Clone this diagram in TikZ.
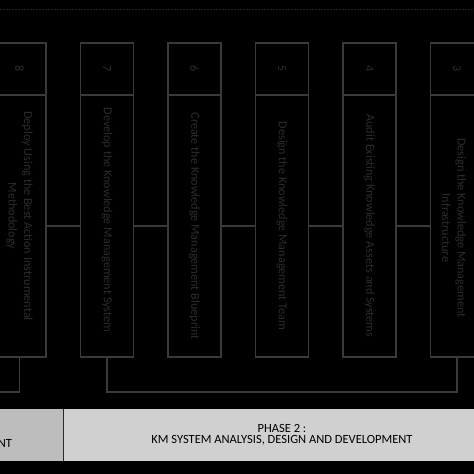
\documentclass[tikz,border=0pt]{standalone}
\usepackage{fontspec}
\setmainfont{Carlito}
\usetikzlibrary{positioning}
\usetikzlibrary{calc}

\definecolor{boxline}{HTML}{3A3A3A}
\definecolor{boxtext}{HTML}{2C2C2C}
\definecolor{phaseA}{HTML}{BDBDBD}
\definecolor{phaseB}{HTML}{D0D0D0}

\begin{document}
\begin{tikzpicture}[x=1pt,y=-1pt, node distance=34.5pt,
                    numbox/.style={rectangle,draw=boxline,line width=1.5pt,outer sep=0pt,
                                   minimum width=53pt,minimum height=52pt,inner sep=0pt},
                    taskbox/.style={rectangle,draw=boxline,line width=1.5pt,outer sep=0pt,
                                    minimum width=53pt,minimum height=262pt,inner sep=0pt},
                    tasktext/.style={rotate=-90,text=boxtext,font=\fontsize{12.2}{15.5}\selectfont,align=center},
                    link/.style={draw=boxline,line width=1.5pt},
                    phase cell/.style={rectangle,minimum height=52pt,inner sep=0pt,outer sep=0pt,
                                       font=\fontsize{12.5}{13.5}\selectfont,align=center}]
      \useasboundingbox[fill=black] (0,0) rectangle (474,474);
      \draw[boxline!60!black, line width=1pt, dash pattern=on 2pt off 1pt] (0,9) -- (474,9);

      % number boxes, right to left in the picture
      \node[numbox] (n8) at (19.5,69) {};
      \node[numbox] (n7) [right=of n8] {};
      \node[numbox] (n6) [right=of n7] {};
      \node[numbox] (n5) [right=of n6] {};
      \node[numbox] (n4) [right=of n5] {};
      \node[numbox] (n3) [right=of n4] {};

      % task boxes
      \node[taskbox] (t8) [below=0pt of n8] {};
      \node[taskbox] (t7) [below=0pt of n7] {};
      \node[taskbox] (t6) [below=0pt of n6] {};
      \node[taskbox] (t5) [below=0pt of n5] {};
      \node[taskbox] (t4) [below=0pt of n4] {};
      \node[taskbox] (t3) [below=0pt of n3] {};

      \foreach \i in {8,7,6,5,4,3}
        \node[tasktext] (num\i) at (n\i) {\i};

      \node[tasktext] (d8) at ($(t8)+(0,-10)$) {Deploy Using the Best Action Instrumental\\Methodology};
      \node[tasktext] (d7) at ($(t7)+(0,-6)$) {Develop the Knowledge Management System};
      \node[tasktext] (d6) at (t6) {Create the Knowledge Management Blueprint};
      \node[tasktext] (d5) at (t5) {Design the Knowledge Management Team};
      \node[tasktext] (d4) at (t4) {Audit Existing Knowledge Assets and Systems};
      \node[tasktext] (d3) at ($(t3)+(-3,2)$) {Design the Knowledge Management\\Infrastructure};

      \path[link]
	(t8) edge (t7)
	(t7) edge (t6)
	(t6) edge (t5)
	(t5) edge (t4)
	(t4) edge (t3);

      \coordinate (lend) at (0,392);
      \coordinate (rturn) at ($(t3.south)+(0,35)$);
      \draw[link] (t8.south) |- (lend);
      \draw[link] (t7.south) |- (rturn) -- (t3.south);

      % phase band
      \node[phase cell, fill=phaseA, minimum width=80pt, anchor=east] (p1) at (63.5,435) {};
      \node[phase cell, fill=phaseB, minimum width=437pt, anchor=west] (p2) at (63.5,435)
           {\raisebox{-2pt}{\shortstack{PHASE 2 :\\KM SYSTEM ANALYSIS, DESIGN AND DEVELOPMENT}}};
      \node[phase cell, anchor=east, minimum height=0pt] (p1txt) at (12,443) {NT};
      \draw[boxline!70!black, line width=1pt] (p1.north east) -- (p1.south east);
    \end{tikzpicture}
\end{document}
